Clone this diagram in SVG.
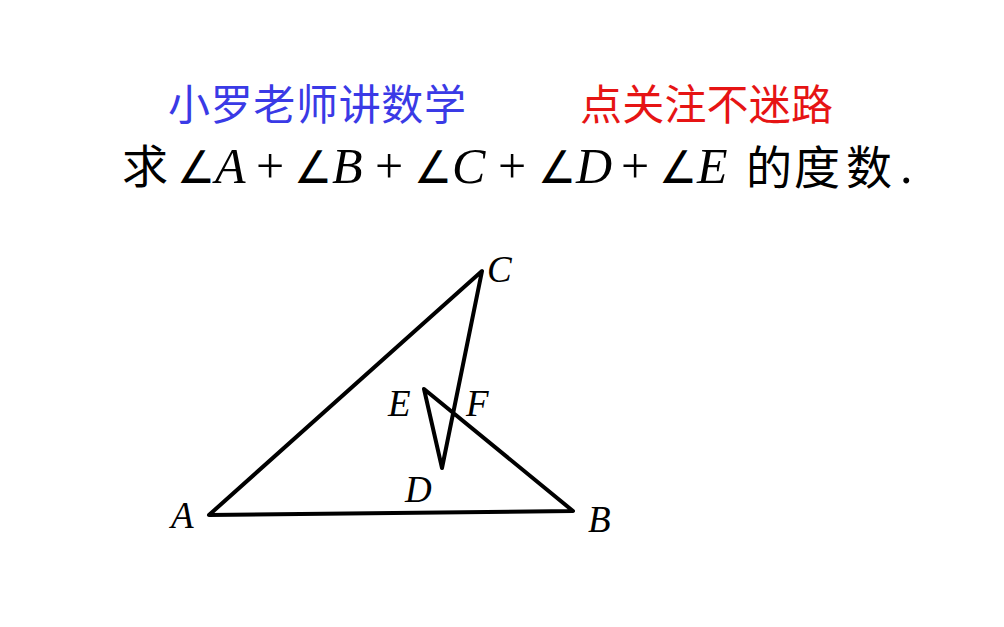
<svg xmlns="http://www.w3.org/2000/svg" width="1004" height="627" viewBox="0 0 1004 627">
<style>
.cjk{font-family:"Noto Sans CJK SC","Noto Sans CJK JP",sans-serif;}
.m{font-family:"Liberation Serif",serif;font-style:italic;font-size:50px;}
.r{font-family:"Liberation Serif",serif;font-size:50px;}
.ang{font-family:"DejaVu Sans",sans-serif;font-size:45px;}
.lbl{font-family:"Liberation Serif",serif;font-style:italic;font-size:37px;fill:#000;}
.edge{stroke:#000;stroke-width:4;fill:none;stroke-linecap:round;stroke-linejoin:round;}
</style>
<rect width="1004" height="627" fill="#fff"/>
<g id="title">
<text class="cjk" x="168" y="120" font-size="42" fill="#3a3ae6" textLength="298">小罗老师讲数学</text>
<text class="cjk" x="580" y="120" font-size="42" fill="#e61414" textLength="253">点关注不迷路</text>
</g>
<g id="question" fill="#000">
<text class="cjk" x="122" y="183" font-size="46">求</text>
<text class="ang" x="177" y="183" textLength="38" lengthAdjust="spacingAndGlyphs">∠</text>
<text class="m" x="215" y="183">A</text>
<text class="r" x="256" y="183">+</text>
<text class="ang" x="294" y="183" textLength="38" lengthAdjust="spacingAndGlyphs">∠</text>
<text class="m" x="332" y="183">B</text>
<text class="r" x="375" y="183">+</text>
<text class="ang" x="414" y="183" textLength="38" lengthAdjust="spacingAndGlyphs">∠</text>
<text class="m" x="452" y="183">C</text>
<text class="r" x="498" y="183">+</text>
<text class="ang" x="538" y="183" textLength="38" lengthAdjust="spacingAndGlyphs">∠</text>
<text class="m" x="576" y="183">D</text>
<text class="r" x="621" y="183">+</text>
<text class="ang" x="659" y="183" textLength="38" lengthAdjust="spacingAndGlyphs">∠</text>
<text class="m" x="697" y="183">E</text>
<text class="cjk" y="184" font-size="46"><tspan x="746">的</tspan><tspan x="794">度</tspan><tspan x="846">数</tspan></text>
<text class="r" x="900" y="183">.</text>
</g>
<g id="connectors">
<polyline class="edge" points="209,515 482,271 442,468 424,389 573,511 209,515"/>
</g>
<g id="node-A"><text class="lbl" x="171" y="528">A</text></g>
<g id="node-B"><text class="lbl" x="588" y="532">B</text></g>
<g id="node-C"><text class="lbl" x="487" y="282">C</text></g>
<g id="node-D"><text class="lbl" x="405" y="502">D</text></g>
<g id="node-E"><text class="lbl" x="388" y="416">E</text></g>
<g id="node-F"><text class="lbl" x="466" y="416">F</text></g>
</svg>
